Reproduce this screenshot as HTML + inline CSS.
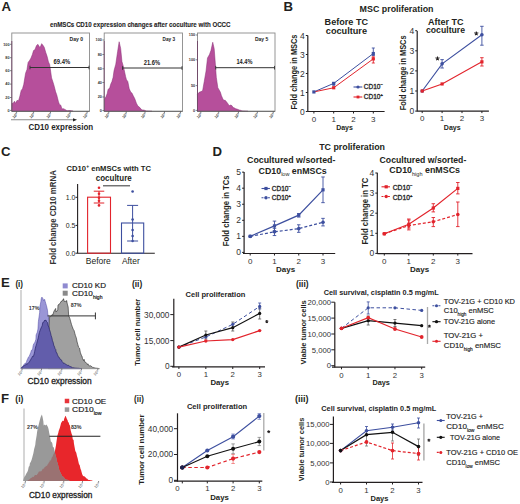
<!DOCTYPE html>
<html><head><meta charset="utf-8"><style>
html,body{margin:0;padding:0;background:#fff;width:520px;height:504px;overflow:hidden}
svg{display:block;font-family:"Liberation Sans",sans-serif}
</style></head><body>
<svg width="520" height="504" viewBox="0 0 520 504">
<rect width="520" height="504" fill="#fff"/>
<text x="1.40" y="10.65" font-size="13.2" font-weight="bold" fill="#231f20">A</text>
<text x="50.00" y="27.34" font-size="7.9" font-weight="bold" fill="#1e1e1e" textLength="180.50" lengthAdjust="spacingAndGlyphs" stroke="#1e1e1e" stroke-width="0.12">enMSCs CD10 expression changes after coculture with OCCC</text>
<path d="M11.97,103.34 L13.23,103.23 L14.56,101.21 L15.46,103.38 L16.93,100.55 L18.65,100.40 L19.92,95.97 L21.17,90.48 L22.49,88.78 L23.76,84.37 L25.59,73.20 L26.98,69.54 L28.10,62.40 L29.73,60.26 L31.01,58.01 L32.36,54.55 L33.55,50.56 L34.90,49.69 L36.44,45.71 L37.82,44.29 L40.03,47.70 L41.66,43.66 L42.95,45.28 L44.23,47.27 L45.69,52.29 L47.09,56.37 L48.48,61.92 L49.69,64.62 L51.58,77.89 L52.95,81.97 L54.21,86.18 L55.62,91.84 L56.69,94.70 L58.33,101.22 L59.29,104.16 L60.76,105.15 L62.00,108.89 L63.41,108.64 L64.41,109.17 L65.58,109.86 L66.79,110.57 L67.86,110.66 L69.02,110.48 L70.43,110.59 L71.49,110.78 L72.90,110.90 L72.90,111.30 L12.10,111.30Z" fill="#b64f9b" stroke="#862a72" stroke-width="0.5"/>
<rect x="11.80" y="33.00" width="77.70" height="78.30" fill="none" stroke="#8a8a8a" stroke-width="0.9"/>
<path d="M11.80,111.30 L89.50,111.30" stroke="#555" stroke-width="0.8" fill="none"/>
<path d="M11.80,41.00 L11.80,111.30" stroke="#6a3a60" stroke-width="0.8" fill="none"/>
<path d="M16.60,111.30 L16.60,113.10" stroke="#555" stroke-width="0.7" fill="none"/>
<text transform="translate(18.00,114.70) rotate(-45)" font-size="3.8" font-weight="bold" fill="#333" text-anchor="end">10<tspan font-size="2.6" dy="-1.3">0</tspan></text>
<path d="M33.60,111.30 L33.60,113.10" stroke="#555" stroke-width="0.7" fill="none"/>
<text transform="translate(35.00,114.70) rotate(-45)" font-size="3.8" font-weight="bold" fill="#333" text-anchor="end">10<tspan font-size="2.6" dy="-1.3">0</tspan></text>
<path d="M50.50,111.30 L50.50,113.10" stroke="#555" stroke-width="0.7" fill="none"/>
<text transform="translate(51.90,114.70) rotate(-45)" font-size="3.8" font-weight="bold" fill="#333" text-anchor="end">10<tspan font-size="2.6" dy="-1.3">0</tspan></text>
<path d="M70.20,111.30 L70.20,113.10" stroke="#555" stroke-width="0.7" fill="none"/>
<text transform="translate(71.60,114.70) rotate(-45)" font-size="3.8" font-weight="bold" fill="#333" text-anchor="end">10<tspan font-size="2.6" dy="-1.3">0</tspan></text>
<path d="M87.10,111.30 L87.10,113.10" stroke="#555" stroke-width="0.7" fill="none"/>
<text transform="translate(88.50,114.70) rotate(-45)" font-size="3.8" font-weight="bold" fill="#333" text-anchor="end">10<tspan font-size="2.6" dy="-1.3">0</tspan></text>
<path d="M10.00,110.40 L11.80,110.40" stroke="#555" stroke-width="0.7" fill="none"/>
<text x="9.50" y="111.70" font-size="3.8" font-weight="bold" fill="#333" text-anchor="end">0</text>
<path d="M10.00,97.50 L11.80,97.50" stroke="#555" stroke-width="0.7" fill="none"/>
<text x="9.50" y="98.80" font-size="3.8" font-weight="bold" fill="#333" text-anchor="end">20</text>
<path d="M10.00,84.10 L11.80,84.10" stroke="#555" stroke-width="0.7" fill="none"/>
<text x="9.50" y="85.40" font-size="3.8" font-weight="bold" fill="#333" text-anchor="end">40</text>
<path d="M10.00,70.70 L11.80,70.70" stroke="#555" stroke-width="0.7" fill="none"/>
<text x="9.50" y="72.00" font-size="3.8" font-weight="bold" fill="#333" text-anchor="end">60</text>
<path d="M10.00,57.70 L11.80,57.70" stroke="#555" stroke-width="0.7" fill="none"/>
<text x="9.50" y="59.00" font-size="3.8" font-weight="bold" fill="#333" text-anchor="end">80</text>
<path d="M10.00,44.30 L11.80,44.30" stroke="#555" stroke-width="0.7" fill="none"/>
<text x="9.50" y="45.60" font-size="3.8" font-weight="bold" fill="#333" text-anchor="end">100</text>
<text x="69.50" y="41.16" font-size="6" font-weight="bold" fill="#222" textLength="13.50" lengthAdjust="spacingAndGlyphs">Day 0</text>
<text x="53.60" y="64.20" font-size="6.4" font-weight="bold" fill="#222" textLength="16.60" lengthAdjust="spacingAndGlyphs">69.4%</text>
<path d="M30.00,67.50 L89.00,67.50" stroke="#333" stroke-width="1" fill="none"/>
<path d="M30.00,65.70 L30.00,69.30" stroke="#333" stroke-width="0.9" fill="none"/>
<path d="M89.00,65.70 L89.00,69.30" stroke="#333" stroke-width="0.9" fill="none"/>
<path d="M104.56,99.27 L105.95,96.72 L107.22,93.45 L108.06,89.61 L109.72,87.83 L110.90,83.74 L111.88,81.79 L113.12,77.29 L114.06,70.59 L115.79,64.13 L117.63,51.41 L119.15,41.74 L120.66,48.41 L121.95,61.59 L123.65,67.39 L125.64,76.69 L126.49,79.73 L127.82,81.57 L129.25,88.81 L130.67,92.04 L131.95,93.06 L133.26,95.78 L134.72,98.61 L136.40,103.13 L137.85,106.01 L139.62,107.32 L141.46,109.59 L142.38,109.91 L143.75,110.06 L145.06,110.44 L146.12,110.96 L146.96,111.02 L148.33,111.07 L149.35,111.11 L150.64,111.23 L152.00,111.30 L152.00,111.30 L104.50,111.30Z" fill="#b64f9b" stroke="#862a72" stroke-width="0.5"/>
<rect x="104.20" y="33.00" width="78.30" height="78.30" fill="none" stroke="#8a8a8a" stroke-width="0.9"/>
<path d="M104.20,111.30 L182.50,111.30" stroke="#555" stroke-width="0.8" fill="none"/>
<path d="M104.20,41.00 L104.20,111.30" stroke="#6a3a60" stroke-width="0.8" fill="none"/>
<path d="M108.75,111.30 L108.75,113.10" stroke="#555" stroke-width="0.7" fill="none"/>
<text transform="translate(110.15,114.70) rotate(-45)" font-size="3.8" font-weight="bold" fill="#333" text-anchor="end">10<tspan font-size="2.6" dy="-1.3">0</tspan></text>
<path d="M126.25,111.30 L126.25,113.10" stroke="#555" stroke-width="0.7" fill="none"/>
<text transform="translate(127.65,114.70) rotate(-45)" font-size="3.8" font-weight="bold" fill="#333" text-anchor="end">10<tspan font-size="2.6" dy="-1.3">0</tspan></text>
<path d="M145.00,111.30 L145.00,113.10" stroke="#555" stroke-width="0.7" fill="none"/>
<text transform="translate(146.40,114.70) rotate(-45)" font-size="3.8" font-weight="bold" fill="#333" text-anchor="end">10<tspan font-size="2.6" dy="-1.3">0</tspan></text>
<path d="M164.50,111.30 L164.50,113.10" stroke="#555" stroke-width="0.7" fill="none"/>
<text transform="translate(165.90,114.70) rotate(-45)" font-size="3.8" font-weight="bold" fill="#333" text-anchor="end">10<tspan font-size="2.6" dy="-1.3">0</tspan></text>
<path d="M180.50,111.30 L180.50,113.10" stroke="#555" stroke-width="0.7" fill="none"/>
<text transform="translate(181.90,114.70) rotate(-45)" font-size="3.8" font-weight="bold" fill="#333" text-anchor="end">10<tspan font-size="2.6" dy="-1.3">0</tspan></text>
<path d="M102.40,110.50 L104.20,110.50" stroke="#555" stroke-width="0.7" fill="none"/>
<text x="101.90" y="111.80" font-size="3.8" font-weight="bold" fill="#333" text-anchor="end">0</text>
<path d="M102.40,97.00 L104.20,97.00" stroke="#555" stroke-width="0.7" fill="none"/>
<text x="101.90" y="98.30" font-size="3.8" font-weight="bold" fill="#333" text-anchor="end">20</text>
<path d="M102.40,82.50 L104.20,82.50" stroke="#555" stroke-width="0.7" fill="none"/>
<text x="101.90" y="83.80" font-size="3.8" font-weight="bold" fill="#333" text-anchor="end">40</text>
<path d="M102.40,68.75 L104.20,68.75" stroke="#555" stroke-width="0.7" fill="none"/>
<text x="101.90" y="70.05" font-size="3.8" font-weight="bold" fill="#333" text-anchor="end">60</text>
<path d="M102.40,54.50 L104.20,54.50" stroke="#555" stroke-width="0.7" fill="none"/>
<text x="101.90" y="55.80" font-size="3.8" font-weight="bold" fill="#333" text-anchor="end">80</text>
<path d="M102.40,40.00 L104.20,40.00" stroke="#555" stroke-width="0.7" fill="none"/>
<text x="101.90" y="41.30" font-size="3.8" font-weight="bold" fill="#333" text-anchor="end">100</text>
<text x="162.50" y="41.16" font-size="6" font-weight="bold" fill="#222" textLength="12.50" lengthAdjust="spacingAndGlyphs">Day 3</text>
<text x="143.75" y="64.70" font-size="6.4" font-weight="bold" fill="#222" textLength="16.25" lengthAdjust="spacingAndGlyphs">21.6%</text>
<path d="M122.50,68.00 L182.00,68.00" stroke="#333" stroke-width="1" fill="none"/>
<path d="M122.50,66.20 L122.50,69.80" stroke="#333" stroke-width="0.9" fill="none"/>
<path d="M182.00,66.20 L182.00,69.80" stroke="#333" stroke-width="0.9" fill="none"/>
<path d="M197.41,94.18 L199.13,92.33 L200.62,91.67 L201.53,91.37 L202.67,90.39 L204.28,81.29 L206.06,70.95 L207.51,57.91 L209.36,54.73 L210.94,50.57 L212.74,42.25 L214.18,48.63 L215.12,60.78 L216.30,77.31 L217.84,87.66 L219.27,90.14 L220.42,92.30 L221.38,95.56 L222.89,99.07 L223.91,100.37 L225.18,100.26 L226.85,102.34 L227.77,103.49 L229.11,105.78 L230.55,105.12 L232.01,105.65 L233.06,107.62 L234.13,107.78 L235.27,108.60 L236.83,109.07 L238.09,109.47 L239.17,109.98 L240.29,110.23 L241.59,110.70 L242.59,110.93 L243.73,111.02 L245.37,111.14 L246.81,111.19 L248.00,111.30 L248.00,111.30 L197.50,111.30Z" fill="#b64f9b" stroke="#862a72" stroke-width="0.5"/>
<rect x="197.50" y="33.00" width="77.50" height="78.30" fill="none" stroke="#8a8a8a" stroke-width="0.9"/>
<path d="M197.50,111.30 L275.00,111.30" stroke="#555" stroke-width="0.8" fill="none"/>
<path d="M197.50,41.00 L197.50,111.30" stroke="#6a3a60" stroke-width="0.8" fill="none"/>
<path d="M200.80,111.30 L200.80,113.10" stroke="#555" stroke-width="0.7" fill="none"/>
<text transform="translate(202.20,114.70) rotate(-45)" font-size="3.8" font-weight="bold" fill="#333" text-anchor="end">10<tspan font-size="2.6" dy="-1.3">0</tspan></text>
<path d="M218.70,111.30 L218.70,113.10" stroke="#555" stroke-width="0.7" fill="none"/>
<text transform="translate(220.10,114.70) rotate(-45)" font-size="3.8" font-weight="bold" fill="#333" text-anchor="end">10<tspan font-size="2.6" dy="-1.3">0</tspan></text>
<path d="M238.50,111.30 L238.50,113.10" stroke="#555" stroke-width="0.7" fill="none"/>
<text transform="translate(239.90,114.70) rotate(-45)" font-size="3.8" font-weight="bold" fill="#333" text-anchor="end">10<tspan font-size="2.6" dy="-1.3">0</tspan></text>
<path d="M257.40,111.30 L257.40,113.10" stroke="#555" stroke-width="0.7" fill="none"/>
<text transform="translate(258.80,114.70) rotate(-45)" font-size="3.8" font-weight="bold" fill="#333" text-anchor="end">10<tspan font-size="2.6" dy="-1.3">0</tspan></text>
<path d="M273.25,111.30 L273.25,113.10" stroke="#555" stroke-width="0.7" fill="none"/>
<text transform="translate(274.65,114.70) rotate(-45)" font-size="3.8" font-weight="bold" fill="#333" text-anchor="end">10<tspan font-size="2.6" dy="-1.3">0</tspan></text>
<path d="M195.70,110.40 L197.50,110.40" stroke="#555" stroke-width="0.7" fill="none"/>
<text x="195.20" y="111.70" font-size="3.8" font-weight="bold" fill="#333" text-anchor="end">0</text>
<path d="M195.70,85.60 L197.50,85.60" stroke="#555" stroke-width="0.7" fill="none"/>
<text x="195.20" y="86.90" font-size="3.8" font-weight="bold" fill="#333" text-anchor="end">50</text>
<path d="M195.70,59.80 L197.50,59.80" stroke="#555" stroke-width="0.7" fill="none"/>
<text x="195.20" y="61.10" font-size="3.8" font-weight="bold" fill="#333" text-anchor="end">100</text>
<path d="M195.70,35.00 L197.50,35.00" stroke="#555" stroke-width="0.7" fill="none"/>
<text x="195.20" y="36.30" font-size="3.8" font-weight="bold" fill="#333" text-anchor="end">150</text>
<text x="255.00" y="41.16" font-size="6" font-weight="bold" fill="#222" textLength="13.30" lengthAdjust="spacingAndGlyphs">Day 5</text>
<text x="236.50" y="64.40" font-size="6.4" font-weight="bold" fill="#222" textLength="15.90" lengthAdjust="spacingAndGlyphs">14.4%</text>
<path d="M215.70,67.70 L274.50,67.70" stroke="#333" stroke-width="1" fill="none"/>
<path d="M215.70,65.90 L215.70,69.50" stroke="#333" stroke-width="0.9" fill="none"/>
<path d="M274.50,65.90 L274.50,69.50" stroke="#333" stroke-width="0.9" fill="none"/>
<path d="M11.00,119.80 L74.00,119.80" stroke="#8a8a8a" stroke-width="1.1" fill="none"/>
<path d="M77.00,119.80 L73.00,118.20 L73.00,121.40Z" fill="#222" stroke="none" stroke-width="1"/>
<text x="28.60" y="130.09" font-size="8.3" font-weight="bold" fill="#262626" textLength="64.60" lengthAdjust="spacingAndGlyphs">CD10 expression</text>
<text x="283.50" y="10.65" font-size="13.2" font-weight="bold" fill="#231f20">B</text>
<text x="359.60" y="11.67" font-size="8.8" font-weight="bold" fill="#231f20" textLength="73.90" lengthAdjust="spacingAndGlyphs">MSC proliferation</text>
<text x="324.60" y="25.10" font-size="8.6" font-weight="bold" fill="#231f20" textLength="43.40" lengthAdjust="spacingAndGlyphs">Before TC</text>
<text x="325.80" y="33.90" font-size="8.6" font-weight="bold" fill="#231f20" textLength="41.20" lengthAdjust="spacingAndGlyphs">coculture</text>
<path d="M307.80,35.50 L307.80,111.80" stroke="#231f20" stroke-width="1.2" fill="none"/>
<path d="M307.80,111.50 L384.60,111.50" stroke="#231f20" stroke-width="1.2" fill="none"/>
<path d="M305.80,111.50 L307.80,111.50" stroke="#231f20" stroke-width="1" fill="none"/>
<text x="304.80" y="114.56" font-size="8.5" fill="#333" text-anchor="end">0</text>
<path d="M305.80,92.50 L307.80,92.50" stroke="#231f20" stroke-width="1" fill="none"/>
<text x="304.80" y="95.56" font-size="8.5" fill="#333" text-anchor="end">1</text>
<path d="M305.80,73.50 L307.80,73.50" stroke="#231f20" stroke-width="1" fill="none"/>
<text x="304.80" y="76.56" font-size="8.5" fill="#333" text-anchor="end">2</text>
<path d="M305.80,54.50 L307.80,54.50" stroke="#231f20" stroke-width="1" fill="none"/>
<text x="304.80" y="57.56" font-size="8.5" fill="#333" text-anchor="end">3</text>
<path d="M305.80,35.50 L307.80,35.50" stroke="#231f20" stroke-width="1" fill="none"/>
<text x="304.80" y="38.56" font-size="8.5" fill="#333" text-anchor="end">4</text>
<path d="M313.90,111.50 L313.90,113.50" stroke="#231f20" stroke-width="1" fill="none"/>
<text x="313.90" y="121.68" font-size="8" fill="#333" text-anchor="middle">0</text>
<path d="M333.70,111.50 L333.70,113.50" stroke="#231f20" stroke-width="1" fill="none"/>
<text x="333.70" y="121.68" font-size="8" fill="#333" text-anchor="middle">1</text>
<path d="M353.50,111.50 L353.50,113.50" stroke="#231f20" stroke-width="1" fill="none"/>
<text x="353.50" y="121.68" font-size="8" fill="#333" text-anchor="middle">2</text>
<path d="M373.30,111.50 L373.30,113.50" stroke="#231f20" stroke-width="1" fill="none"/>
<text x="373.30" y="121.68" font-size="8" fill="#333" text-anchor="middle">3</text>
<text x="344.50" y="130.02" font-size="7" font-weight="bold" fill="#231f20" text-anchor="middle">Days</text>
<text transform="translate(297.46,109.50) rotate(-90)" font-size="8.5" font-weight="bold" fill="#231f20" textLength="75.00" lengthAdjust="spacingAndGlyphs">Fold change in MSCs</text>
<path d="M313.90,91.93 L333.70,83.38 L373.30,53.55" stroke="#3d4f9f" stroke-width="1" fill="none"/>
<path d="M313.90,91.93 L333.70,87.75 L373.30,58.87" stroke="#e2242c" stroke-width="1" fill="none"/>
<path d="M373.30,48.00 L373.30,55.50" stroke="#3d4f9f" stroke-width="0.9" fill="none"/>
<path d="M371.80,48.00 L374.80,48.00" stroke="#3d4f9f" stroke-width="0.9" fill="none"/>
<path d="M371.80,55.50 L374.80,55.50" stroke="#3d4f9f" stroke-width="0.9" fill="none"/>
<path d="M373.30,56.80 L373.30,63.00" stroke="#e2242c" stroke-width="0.9" fill="none"/>
<path d="M371.80,56.80 L374.80,56.80" stroke="#e2242c" stroke-width="0.9" fill="none"/>
<path d="M371.80,63.00 L374.80,63.00" stroke="#e2242c" stroke-width="0.9" fill="none"/>
<path d="M333.70,82.62 L333.70,85.28" stroke="#3d4f9f" stroke-width="0.9" fill="none"/>
<path d="M332.20,82.62 L335.20,82.62" stroke="#3d4f9f" stroke-width="0.9" fill="none"/>
<path d="M332.20,85.28 L335.20,85.28" stroke="#3d4f9f" stroke-width="0.9" fill="none"/>
<rect x="312.30" y="90.33" width="3.2" height="3.2" fill="#3d4f9f"/>
<rect x="332.10" y="81.78" width="3.2" height="3.2" fill="#3d4f9f"/>
<rect x="371.70" y="51.95" width="3.2" height="3.2" fill="#3d4f9f"/>
<rect x="332.10" y="86.15" width="3.2" height="3.2" fill="#e2242c"/>
<rect x="371.70" y="57.27" width="3.2" height="3.2" fill="#e2242c"/>
<path d="M353.50,87.00 L362.30,87.00" stroke="#3d4f9f" stroke-width="1.1" fill="none"/>
<circle cx="358.00" cy="87.00" r="1.6" fill="#3d4f9f"/>
<path d="M353.50,97.00 L362.30,97.00" stroke="#e2242c" stroke-width="1.1" fill="none"/>
<rect x="356.60" y="95.60" width="2.8" height="2.8" fill="#e2242c"/>
<text x="363.80" y="89.32" font-size="7" stroke="#2a2a2a" stroke-width="0.35" fill="#2a2a2a" textLength="19.00" lengthAdjust="spacingAndGlyphs">CD10<tspan font-size="4.20" dy="-2.94" font-weight="bold">−</tspan></text>
<text x="363.80" y="99.32" font-size="7" stroke="#2a2a2a" stroke-width="0.35" fill="#2a2a2a" textLength="19.00" lengthAdjust="spacingAndGlyphs">CD10<tspan font-size="4.20" dy="-2.94" font-weight="bold">+</tspan></text>
<text x="427.90" y="25.10" font-size="8.6" font-weight="bold" fill="#231f20" textLength="35.60" lengthAdjust="spacingAndGlyphs">After TC</text>
<text x="426.00" y="32.90" font-size="8.6" font-weight="bold" fill="#231f20" textLength="39.00" lengthAdjust="spacingAndGlyphs">coculture</text>
<path d="M417.20,31.00 L417.20,111.40" stroke="#231f20" stroke-width="1.2" fill="none"/>
<path d="M417.20,111.10 L488.90,111.10" stroke="#231f20" stroke-width="1.2" fill="none"/>
<path d="M415.20,111.10 L417.20,111.10" stroke="#231f20" stroke-width="1" fill="none"/>
<text x="414.20" y="114.16" font-size="8.5" fill="#333" text-anchor="end">0</text>
<path d="M415.20,91.00 L417.20,91.00" stroke="#231f20" stroke-width="1" fill="none"/>
<text x="414.20" y="94.06" font-size="8.5" fill="#333" text-anchor="end">1</text>
<path d="M415.20,70.90 L417.20,70.90" stroke="#231f20" stroke-width="1" fill="none"/>
<text x="414.20" y="73.96" font-size="8.5" fill="#333" text-anchor="end">2</text>
<path d="M415.20,50.80 L417.20,50.80" stroke="#231f20" stroke-width="1" fill="none"/>
<text x="414.20" y="53.86" font-size="8.5" fill="#333" text-anchor="end">3</text>
<path d="M415.20,30.70 L417.20,30.70" stroke="#231f20" stroke-width="1" fill="none"/>
<text x="414.20" y="33.76" font-size="8.5" fill="#333" text-anchor="end">4</text>
<path d="M422.20,111.10 L422.20,113.10" stroke="#231f20" stroke-width="1" fill="none"/>
<text x="422.20" y="121.48" font-size="8" fill="#333" text-anchor="middle">0</text>
<path d="M442.10,111.10 L442.10,113.10" stroke="#231f20" stroke-width="1" fill="none"/>
<text x="442.10" y="121.48" font-size="8" fill="#333" text-anchor="middle">1</text>
<path d="M462.00,111.10 L462.00,113.10" stroke="#231f20" stroke-width="1" fill="none"/>
<text x="462.00" y="121.48" font-size="8" fill="#333" text-anchor="middle">2</text>
<path d="M481.90,111.10 L481.90,113.10" stroke="#231f20" stroke-width="1" fill="none"/>
<text x="481.90" y="121.48" font-size="8" fill="#333" text-anchor="middle">3</text>
<text x="452.20" y="130.32" font-size="7" font-weight="bold" fill="#231f20" text-anchor="middle">Days</text>
<text transform="translate(405.86,110.20) rotate(-90)" font-size="8.5" font-weight="bold" fill="#231f20" textLength="74.70" lengthAdjust="spacingAndGlyphs">Fold change in MSCs</text>
<path d="M422.20,91.00 L442.10,63.86 L481.90,34.72" stroke="#3d4f9f" stroke-width="1.1" fill="none"/>
<path d="M422.20,91.00 L442.10,83.96 L481.90,61.85" stroke="#e2242c" stroke-width="1.1" fill="none"/>
<path d="M481.90,26.30 L481.90,45.20" stroke="#3d4f9f" stroke-width="0.9" fill="none"/>
<path d="M480.15,26.30 L483.65,26.30" stroke="#3d4f9f" stroke-width="0.9" fill="none"/>
<path d="M480.15,45.20 L483.65,45.20" stroke="#3d4f9f" stroke-width="0.9" fill="none"/>
<path d="M442.10,59.60 L442.10,68.00" stroke="#3d4f9f" stroke-width="0.9" fill="none"/>
<path d="M440.35,59.60 L443.85,59.60" stroke="#3d4f9f" stroke-width="0.9" fill="none"/>
<path d="M440.35,68.00 L443.85,68.00" stroke="#3d4f9f" stroke-width="0.9" fill="none"/>
<path d="M481.90,57.70 L481.90,66.00" stroke="#e2242c" stroke-width="0.9" fill="none"/>
<path d="M480.15,57.70 L483.65,57.70" stroke="#e2242c" stroke-width="0.9" fill="none"/>
<path d="M480.15,66.00 L483.65,66.00" stroke="#e2242c" stroke-width="0.9" fill="none"/>
<circle cx="422.20" cy="91.00" r="1.8" fill="#3d4f9f"/>
<circle cx="442.10" cy="63.86" r="1.8" fill="#3d4f9f"/>
<circle cx="481.90" cy="34.72" r="1.8" fill="#3d4f9f"/>
<rect x="420.60" y="89.40" width="3.2" height="3.2" fill="#e2242c"/>
<rect x="440.50" y="82.36" width="3.2" height="3.2" fill="#e2242c"/>
<rect x="480.30" y="60.25" width="3.2" height="3.2" fill="#e2242c"/>
<path d="M437.50,58.50 L437.50,56.40 M437.50,58.50 L439.50,57.85 M437.50,58.50 L438.73,60.20 M437.50,58.50 L436.27,60.20 M437.50,58.50 L435.50,57.85 " stroke="#231f20" stroke-width="1.05" stroke-linecap="butt" fill="none"/>
<path d="M476.30,33.50 L476.30,31.40 M476.30,33.50 L478.30,32.85 M476.30,33.50 L477.53,35.20 M476.30,33.50 L475.07,35.20 M476.30,33.50 L474.30,32.85 " stroke="#231f20" stroke-width="1.05" stroke-linecap="butt" fill="none"/>
<text x="1.00" y="155.55" font-size="13.2" font-weight="bold" fill="#231f20">C</text>
<text x="66.60" y="171.44" font-size="7.9" font-weight="bold" fill="#231f20" textLength="84.40" lengthAdjust="spacingAndGlyphs">CD10<tspan font-size="5.14" dy="-3.16">+</tspan><tspan dy="3.16"> enMSCs with TC</tspan></text>
<text x="95.80" y="181.15" font-size="8.2" font-weight="bold" fill="#231f20" textLength="35.90" lengthAdjust="spacingAndGlyphs">coculture</text>
<path d="M77.60,184.00 L77.60,253.50" stroke="#231f20" stroke-width="1.1" fill="none"/>
<path d="M77.60,253.30 L154.80,253.30" stroke="#231f20" stroke-width="1.1" fill="none"/>
<path d="M75.50,197.30 L77.60,197.30" stroke="#231f20" stroke-width="1" fill="none"/>
<text x="65.80" y="200.11" font-size="7.8" fill="#231f20" textLength="9.60" lengthAdjust="spacingAndGlyphs">1.0</text>
<path d="M75.50,225.40 L77.60,225.40" stroke="#231f20" stroke-width="1" fill="none"/>
<text x="65.80" y="228.21" font-size="7.8" fill="#231f20" textLength="9.60" lengthAdjust="spacingAndGlyphs">0.5</text>
<path d="M75.50,253.20 L77.60,253.20" stroke="#231f20" stroke-width="1" fill="none"/>
<text x="65.80" y="256.01" font-size="7.8" fill="#231f20" textLength="9.60" lengthAdjust="spacingAndGlyphs">0.0</text>
<text transform="translate(55.67,264.60) rotate(-90)" font-size="8.8" font-weight="bold" fill="#333" textLength="94.40" lengthAdjust="spacingAndGlyphs">Fold change CD10 mRNA</text>
<rect x="87.6" y="197.2" width="22.9" height="56" fill="none" stroke="#e2242c" stroke-width="1.1"/>
<rect x="121.5" y="223" width="22.2" height="30.2" fill="none" stroke="#3d4f9f" stroke-width="1.1"/>
<path d="M99.00,191.20 L99.00,203.00" stroke="#e2242c" stroke-width="1" fill="none"/>
<path d="M93.75,191.20 L104.25,191.20" stroke="#e2242c" stroke-width="1" fill="none"/>
<path d="M93.75,203.00 L104.25,203.00" stroke="#e2242c" stroke-width="1" fill="none"/>
<path d="M132.60,205.40 L132.60,241.00" stroke="#3d4f9f" stroke-width="1" fill="none"/>
<path d="M127.10,205.40 L138.10,205.40" stroke="#3d4f9f" stroke-width="1" fill="none"/>
<path d="M127.10,241.00 L138.10,241.00" stroke="#3d4f9f" stroke-width="1" fill="none"/>
<circle cx="99.00" cy="187.70" r="1.3" fill="#e2242c"/>
<circle cx="99.00" cy="193.80" r="1.3" fill="#e2242c"/>
<circle cx="99.00" cy="197.70" r="1.3" fill="#e2242c"/>
<circle cx="99.00" cy="200.80" r="1.3" fill="#e2242c"/>
<circle cx="99.00" cy="205.40" r="1.3" fill="#e2242c"/>
<circle cx="132.60" cy="191.50" r="1.3" fill="#3d4f9f"/>
<circle cx="132.60" cy="219.50" r="1.3" fill="#3d4f9f"/>
<circle cx="132.60" cy="230.00" r="1.3" fill="#3d4f9f"/>
<circle cx="132.60" cy="236.00" r="1.3" fill="#3d4f9f"/>
<circle cx="132.60" cy="241.00" r="1.3" fill="#3d4f9f"/>
<path d="M103.00,185.80 L130.00,185.80" stroke="#444" stroke-width="1.1" fill="none"/>
<text x="85.80" y="264.04" font-size="9" fill="#231f20" textLength="25.00" lengthAdjust="spacingAndGlyphs">Before</text>
<text x="121.90" y="264.24" font-size="9" fill="#231f20" textLength="17.80" lengthAdjust="spacingAndGlyphs">After</text>
<text x="212.60" y="155.65" font-size="13.2" font-weight="bold" fill="#231f20">D</text>
<text x="319.20" y="150.47" font-size="8.8" font-weight="bold" fill="#231f20" textLength="65.80" lengthAdjust="spacingAndGlyphs">TC proliferation</text>
<text x="247.00" y="163.10" font-size="8.9" font-weight="bold" fill="#231f20" textLength="88.40" lengthAdjust="spacingAndGlyphs">Cocultured w/sorted-</text>
<text x="258.50" y="173.50" font-size="8.9" font-weight="bold" fill="#231f20" textLength="68.30" lengthAdjust="spacingAndGlyphs">CD10<tspan font-size="5.52" dy="2.85" font-weight="normal">low</tspan><tspan dy="-2.85"> enMSCs</tspan></text>
<path d="M244.10,172.00 L244.10,254.00" stroke="#231f20" stroke-width="1.2" fill="none"/>
<path d="M243.00,253.50 L335.20,253.50" stroke="#231f20" stroke-width="1.2" fill="none"/>
<path d="M242.10,252.40 L244.10,252.40" stroke="#231f20" stroke-width="1" fill="none"/>
<text x="241.10" y="255.46" font-size="8.5" fill="#333" text-anchor="end">0</text>
<path d="M242.10,236.35 L244.10,236.35" stroke="#231f20" stroke-width="1" fill="none"/>
<text x="241.10" y="239.41" font-size="8.5" fill="#333" text-anchor="end">1</text>
<path d="M242.10,220.30 L244.10,220.30" stroke="#231f20" stroke-width="1" fill="none"/>
<text x="241.10" y="223.36" font-size="8.5" fill="#333" text-anchor="end">2</text>
<path d="M242.10,204.25 L244.10,204.25" stroke="#231f20" stroke-width="1" fill="none"/>
<text x="241.10" y="207.31" font-size="8.5" fill="#333" text-anchor="end">3</text>
<path d="M242.10,188.20 L244.10,188.20" stroke="#231f20" stroke-width="1" fill="none"/>
<text x="241.10" y="191.26" font-size="8.5" fill="#333" text-anchor="end">4</text>
<path d="M242.10,172.15 L244.10,172.15" stroke="#231f20" stroke-width="1" fill="none"/>
<text x="241.10" y="175.21" font-size="8.5" fill="#333" text-anchor="end">5</text>
<path d="M250.20,253.50 L250.20,255.50" stroke="#231f20" stroke-width="1" fill="none"/>
<text x="250.20" y="263.78" font-size="8" fill="#333" text-anchor="middle">0</text>
<path d="M274.47,253.50 L274.47,255.50" stroke="#231f20" stroke-width="1" fill="none"/>
<text x="274.47" y="263.78" font-size="8" fill="#333" text-anchor="middle">1</text>
<path d="M298.74,253.50 L298.74,255.50" stroke="#231f20" stroke-width="1" fill="none"/>
<text x="298.74" y="263.78" font-size="8" fill="#333" text-anchor="middle">2</text>
<path d="M323.01,253.50 L323.01,255.50" stroke="#231f20" stroke-width="1" fill="none"/>
<text x="323.01" y="263.78" font-size="8" fill="#333" text-anchor="middle">3</text>
<text x="285.60" y="271.78" font-size="8" font-weight="bold" fill="#231f20" text-anchor="middle">Days</text>
<text transform="translate(229.19,246.20) rotate(-90)" font-size="8.3" font-weight="bold" fill="#231f20" textLength="70.80" lengthAdjust="spacingAndGlyphs">Fold change in TCs</text>
<path d="M250.20,236.35 L274.47,225.92 L298.74,215.16 L323.01,189.81" stroke="#3d4f9f" stroke-width="1.2" fill="none"/>
<path d="M250.20,236.35 L274.47,231.86 L298.74,228.65 L323.01,222.23" stroke="#3d4f9f" stroke-width="1.2" fill="none" stroke-dasharray="3,2"/>
<path d="M274.47,221.10 L274.47,230.73" stroke="#3d4f9f" stroke-width="0.9" fill="none"/>
<path d="M272.72,221.10 L276.22,221.10" stroke="#3d4f9f" stroke-width="0.9" fill="none"/>
<path d="M272.72,230.73 L276.22,230.73" stroke="#3d4f9f" stroke-width="0.9" fill="none"/>
<path d="M298.74,213.56 L298.74,217.09" stroke="#3d4f9f" stroke-width="0.9" fill="none"/>
<path d="M296.99,213.56 L300.49,213.56" stroke="#3d4f9f" stroke-width="0.9" fill="none"/>
<path d="M296.99,217.09 L300.49,217.09" stroke="#3d4f9f" stroke-width="0.9" fill="none"/>
<path d="M323.01,176.97 L323.01,202.65" stroke="#3d4f9f" stroke-width="0.9" fill="none"/>
<path d="M321.26,176.97 L324.76,176.97" stroke="#3d4f9f" stroke-width="0.9" fill="none"/>
<path d="M321.26,202.65 L324.76,202.65" stroke="#3d4f9f" stroke-width="0.9" fill="none"/>
<path d="M274.47,228.32 L274.47,235.55" stroke="#3d4f9f" stroke-width="0.9" fill="none"/>
<path d="M272.72,228.32 L276.22,228.32" stroke="#3d4f9f" stroke-width="0.9" fill="none"/>
<path d="M272.72,235.55 L276.22,235.55" stroke="#3d4f9f" stroke-width="0.9" fill="none"/>
<path d="M298.74,224.79 L298.74,232.34" stroke="#3d4f9f" stroke-width="0.9" fill="none"/>
<path d="M296.99,224.79 L300.49,224.79" stroke="#3d4f9f" stroke-width="0.9" fill="none"/>
<path d="M296.99,232.34 L300.49,232.34" stroke="#3d4f9f" stroke-width="0.9" fill="none"/>
<path d="M323.01,218.37 L323.01,225.92" stroke="#3d4f9f" stroke-width="0.9" fill="none"/>
<path d="M321.26,218.37 L324.76,218.37" stroke="#3d4f9f" stroke-width="0.9" fill="none"/>
<path d="M321.26,225.92 L324.76,225.92" stroke="#3d4f9f" stroke-width="0.9" fill="none"/>
<rect x="248.60" y="234.75" width="3.2" height="3.2" fill="#3d4f9f"/>
<rect x="272.87" y="224.32" width="3.2" height="3.2" fill="#3d4f9f"/>
<rect x="297.14" y="213.56" width="3.2" height="3.2" fill="#3d4f9f"/>
<rect x="321.41" y="188.21" width="3.2" height="3.2" fill="#3d4f9f"/>
<circle cx="250.20" cy="236.35" r="1.8" fill="#3d4f9f"/>
<circle cx="274.47" cy="231.86" r="1.8" fill="#3d4f9f"/>
<circle cx="298.74" cy="228.65" r="1.8" fill="#3d4f9f"/>
<circle cx="323.01" cy="222.23" r="1.8" fill="#3d4f9f"/>
<path d="M261.50,188.50 L269.90,188.50" stroke="#3d4f9f" stroke-width="1.1" fill="none"/>
<rect x="264.40" y="186.90" width="3.2" height="3.2" fill="#3d4f9f"/>
<path d="M261.50,197.70 L269.90,197.70" stroke="#3d4f9f" stroke-width="1.1" fill="none" stroke-dasharray="2,1.2"/>
<circle cx="266.00" cy="197.70" r="1.7" fill="#3d4f9f"/>
<text x="271.80" y="191.02" font-size="7" stroke="#2a2a2a" stroke-width="0.35" fill="#2a2a2a" textLength="19.00" lengthAdjust="spacingAndGlyphs">CD10<tspan font-size="4.20" dy="-2.94" font-weight="bold">−</tspan></text>
<text x="271.80" y="200.22" font-size="7" stroke="#2a2a2a" stroke-width="0.35" fill="#2a2a2a" textLength="19.00" lengthAdjust="spacingAndGlyphs">CD10<tspan font-size="4.20" dy="-2.94" font-weight="bold">+</tspan></text>
<text x="379.60" y="162.80" font-size="8.9" font-weight="bold" fill="#231f20" textLength="86.70" lengthAdjust="spacingAndGlyphs">Cocultured w/sorted-</text>
<text x="389.30" y="173.00" font-size="8.9" font-weight="bold" fill="#231f20" textLength="70.70" lengthAdjust="spacingAndGlyphs">CD10<tspan font-size="5.52" dy="2.85" font-weight="normal">high</tspan><tspan dy="-2.85"> enMSCs</tspan></text>
<path d="M377.30,172.80 L377.30,254.00" stroke="#231f20" stroke-width="1.2" fill="none"/>
<path d="M377.30,253.60 L472.50,253.60" stroke="#231f20" stroke-width="1.2" fill="none"/>
<path d="M375.30,253.40 L377.30,253.40" stroke="#231f20" stroke-width="1" fill="none"/>
<text x="374.30" y="256.46" font-size="8.5" fill="#333" text-anchor="end">0</text>
<path d="M375.30,233.30 L377.30,233.30" stroke="#231f20" stroke-width="1" fill="none"/>
<text x="374.30" y="236.36" font-size="8.5" fill="#333" text-anchor="end">1</text>
<path d="M375.30,213.20 L377.30,213.20" stroke="#231f20" stroke-width="1" fill="none"/>
<text x="374.30" y="216.26" font-size="8.5" fill="#333" text-anchor="end">2</text>
<path d="M375.30,193.10 L377.30,193.10" stroke="#231f20" stroke-width="1" fill="none"/>
<text x="374.30" y="196.16" font-size="8.5" fill="#333" text-anchor="end">3</text>
<path d="M375.30,173.00 L377.30,173.00" stroke="#231f20" stroke-width="1" fill="none"/>
<text x="374.30" y="176.06" font-size="8.5" fill="#333" text-anchor="end">4</text>
<path d="M384.30,253.60 L384.30,255.60" stroke="#231f20" stroke-width="1" fill="none"/>
<text x="384.30" y="263.78" font-size="8" fill="#333" text-anchor="middle">0</text>
<path d="M408.80,253.60 L408.80,255.60" stroke="#231f20" stroke-width="1" fill="none"/>
<text x="408.80" y="263.78" font-size="8" fill="#333" text-anchor="middle">1</text>
<path d="M433.30,253.60 L433.30,255.60" stroke="#231f20" stroke-width="1" fill="none"/>
<text x="433.30" y="263.78" font-size="8" fill="#333" text-anchor="middle">2</text>
<path d="M457.80,253.60 L457.80,255.60" stroke="#231f20" stroke-width="1" fill="none"/>
<text x="457.80" y="263.78" font-size="8" fill="#333" text-anchor="middle">3</text>
<text x="419.60" y="271.98" font-size="8" font-weight="bold" fill="#231f20" text-anchor="middle">Days</text>
<text transform="translate(367.69,244.60) rotate(-90)" font-size="8.3" font-weight="bold" fill="#231f20" textLength="67.00" lengthAdjust="spacingAndGlyphs">Fold change in TC</text>
<path d="M384.30,233.80 L408.80,224.30 L433.30,208.00 L457.80,188.40" stroke="#e2242c" stroke-width="1.2" fill="none"/>
<path d="M384.30,233.80 L408.80,225.60 L433.30,221.70 L457.80,214.50" stroke="#e2242c" stroke-width="1.2" fill="none" stroke-dasharray="3,2"/>
<path d="M408.80,219.00 L408.80,228.00" stroke="#e2242c" stroke-width="0.9" fill="none"/>
<path d="M407.05,219.00 L410.55,219.00" stroke="#e2242c" stroke-width="0.9" fill="none"/>
<path d="M407.05,228.00 L410.55,228.00" stroke="#e2242c" stroke-width="0.9" fill="none"/>
<path d="M433.30,203.70 L433.30,211.90" stroke="#e2242c" stroke-width="0.9" fill="none"/>
<path d="M431.55,203.70 L435.05,203.70" stroke="#e2242c" stroke-width="0.9" fill="none"/>
<path d="M431.55,211.90 L435.05,211.90" stroke="#e2242c" stroke-width="0.9" fill="none"/>
<path d="M457.80,182.50 L457.80,193.90" stroke="#e2242c" stroke-width="0.9" fill="none"/>
<path d="M456.05,182.50 L459.55,182.50" stroke="#e2242c" stroke-width="0.9" fill="none"/>
<path d="M456.05,193.90 L459.55,193.90" stroke="#e2242c" stroke-width="0.9" fill="none"/>
<path d="M408.80,220.00 L408.80,229.90" stroke="#e2242c" stroke-width="0.9" fill="none"/>
<path d="M407.05,220.00 L410.55,220.00" stroke="#e2242c" stroke-width="0.9" fill="none"/>
<path d="M407.05,229.90 L410.55,229.90" stroke="#e2242c" stroke-width="0.9" fill="none"/>
<path d="M433.30,217.50 L433.30,226.60" stroke="#e2242c" stroke-width="0.9" fill="none"/>
<path d="M431.55,217.50 L435.05,217.50" stroke="#e2242c" stroke-width="0.9" fill="none"/>
<path d="M431.55,226.60 L435.05,226.60" stroke="#e2242c" stroke-width="0.9" fill="none"/>
<path d="M457.80,202.00 L457.80,226.60" stroke="#e2242c" stroke-width="0.9" fill="none"/>
<path d="M456.05,202.00 L459.55,202.00" stroke="#e2242c" stroke-width="0.9" fill="none"/>
<path d="M456.05,226.60 L459.55,226.60" stroke="#e2242c" stroke-width="0.9" fill="none"/>
<rect x="382.70" y="232.20" width="3.2" height="3.2" fill="#e2242c"/>
<rect x="407.20" y="222.70" width="3.2" height="3.2" fill="#e2242c"/>
<rect x="431.70" y="206.40" width="3.2" height="3.2" fill="#e2242c"/>
<rect x="456.20" y="186.80" width="3.2" height="3.2" fill="#e2242c"/>
<circle cx="384.30" cy="233.80" r="1.8" fill="#e2242c"/>
<circle cx="408.80" cy="225.60" r="1.8" fill="#e2242c"/>
<circle cx="433.30" cy="221.70" r="1.8" fill="#e2242c"/>
<circle cx="457.80" cy="214.50" r="1.8" fill="#e2242c"/>
<path d="M381.50,186.80 L390.00,186.80" stroke="#e2242c" stroke-width="1.1" fill="none"/>
<rect x="384.60" y="185.20" width="3.2" height="3.2" fill="#e2242c"/>
<path d="M381.50,196.50 L390.00,196.50" stroke="#e2242c" stroke-width="1.1" fill="none" stroke-dasharray="2,1.2"/>
<circle cx="386.20" cy="196.50" r="1.7" fill="#e2242c"/>
<text x="392.70" y="189.52" font-size="7" stroke="#2a2a2a" stroke-width="0.35" fill="#2a2a2a" textLength="19.60" lengthAdjust="spacingAndGlyphs">CD10<tspan font-size="4.20" dy="-2.94" font-weight="bold">−</tspan></text>
<text x="392.70" y="199.52" font-size="7" stroke="#2a2a2a" stroke-width="0.35" fill="#2a2a2a" textLength="19.60" lengthAdjust="spacingAndGlyphs">CD10<tspan font-size="4.20" dy="-2.94" font-weight="bold">+</tspan></text>
<text x="1.00" y="287.45" font-size="13.2" font-weight="bold" fill="#231f20">E</text>
<text x="15.40" y="286.64" font-size="9" font-weight="bold" fill="#231f20" textLength="7.60" lengthAdjust="spacingAndGlyphs">(i)</text>
<rect x="62.70" y="283.40" width="5" height="5" fill="#8f8ad0"/>
<rect x="62.70" y="290.70" width="5" height="5" fill="#8a8a8a"/>
<text x="72.00" y="287.98" font-size="8" fill="#1a1a1a" textLength="34.00" lengthAdjust="spacingAndGlyphs" stroke="#1a1a1a" stroke-width="0.18">CD10 KD</text>
<text x="72.00" y="295.68" font-size="8" stroke="#1a1a1a" stroke-width="0.18" fill="#1a1a1a" textLength="30.50" lengthAdjust="spacingAndGlyphs">CD10<tspan font-size="4.96" dy="2.88">high</tspan></text>
<path d="M21.00,290.00 L21.00,368.60" stroke="#bbbbbb" stroke-width="1.2" fill="none"/>
<path d="M20.68,368.60 L21.54,367.87 L21.96,367.19 L22.43,366.45 L23.28,365.93 L23.65,364.82 L24.28,364.61 L25.21,362.98 L25.98,363.51 L26.45,362.31 L26.83,360.53 L27.64,358.99 L28.10,357.83 L28.65,356.74 L29.48,355.97 L30.15,354.04 L30.77,352.55 L31.38,350.26 L32.25,350.21 L32.77,348.15 L33.11,345.71 L33.69,343.91 L34.53,343.08 L35.17,341.57 L35.90,339.37 L36.10,334.97 L37.23,332.36 L37.94,329.09 L38.39,321.51 L39.64,312.74 L39.89,306.62 L40.93,301.22 L41.21,298.84 L41.90,297.12 L43.00,298.71 L43.63,300.59 L44.65,299.36 L45.22,301.59 L45.81,303.54 L46.46,305.64 L47.49,310.26 L47.80,313.97 L48.46,316.59 L49.48,320.68 L49.78,324.78 L50.51,326.72 L51.46,330.26 L51.90,333.15 L52.40,336.37 L53.07,338.60 L53.74,340.51 L54.63,342.77 L55.04,345.73 L55.44,346.11 L56.40,349.24 L56.67,349.78 L57.52,353.08 L57.85,354.90 L58.82,355.21 L59.21,355.21 L59.64,357.93 L60.37,358.41 L61.00,359.65 L61.80,359.59 L62.21,361.42 L62.78,361.55 L63.63,362.89 L64.26,362.34 L65.01,362.59 L65.16,363.03 L65.97,363.12 L66.44,363.85 L67.24,363.94 L67.73,365.05 L68.64,365.14 L69.10,365.40 L69.42,365.33 L69.96,366.27 L70.90,366.60 L71.16,366.73 L71.99,367.09 L72.53,367.29 L73.04,367.22 L73.99,367.43 L74.62,367.46 L75.27,367.61 L75.68,367.65 L76.58,367.78 L76.96,367.86 L77.81,367.91 L78.31,367.98 L78.92,368.11 L79.29,368.21 L80.37,368.33 L80.86,368.39 L81.49,368.50 L82.00,368.60 L82.00,368.60 L20.70,368.60Z" fill="#9a96d6" stroke="#4a45a0" stroke-width="0.5"/>
<path d="M48.49,368.60 L48.88,329.14 L49.36,316.50 L50.15,317.00 L51.02,315.96 L51.61,315.57 L52.06,314.50 L52.73,315.07 L53.38,313.07 L54.09,310.95 L54.82,309.82 L55.67,308.44 L55.93,311.95 L56.80,311.32 L57.74,309.82 L58.01,305.02 L58.92,304.30 L60.06,303.49 L61.00,301.42 L61.64,301.46 L62.35,300.21 L63.05,300.04 L63.54,298.67 L64.31,301.52 L65.04,301.39 L65.33,301.27 L66.20,301.77 L66.61,300.46 L67.33,304.08 L68.16,307.00 L68.66,315.77 L69.77,318.17 L70.56,321.08 L71.54,324.58 L72.30,326.72 L73.24,329.27 L74.07,330.46 L74.92,333.73 L75.48,335.70 L76.25,337.68 L77.14,342.00 L77.89,344.69 L78.58,347.27 L79.53,348.15 L80.32,352.26 L80.55,353.08 L81.54,355.62 L81.95,355.95 L82.52,358.54 L83.67,360.57 L84.10,359.36 L84.65,361.79 L85.55,362.07 L85.89,362.48 L86.66,363.28 L87.20,364.37 L88.15,363.93 L88.50,365.40 L89.15,365.77 L89.93,365.85 L90.69,365.79 L91.14,366.18 L92.00,366.80 L92.39,367.21 L93.20,367.27 L93.87,367.83 L94.60,367.84 L95.46,368.02 L96.06,368.02 L96.64,368.20 L97.42,368.27 L97.87,368.37 L98.74,368.49 L99.30,368.60 L99.30,368.60Z" fill="#a0a0a0" stroke="#1a1a1a" stroke-width="0.55"/>
<path d="M21.48,367.73 L22.32,367.34 L22.70,366.70 L23.31,366.23 L24.24,365.70 L24.77,365.27 L25.28,364.95 L26.18,364.64 L26.40,363.90 L27.09,364.02 L28.05,363.53 L28.73,362.61 L29.45,361.82 L29.77,361.06 L30.54,360.01 L31.24,358.59 L31.81,357.69 L32.44,356.29 L33.36,356.48 L34.16,353.83 L34.67,351.44 L35.18,348.84 L36.05,345.56 L36.65,343.64 L37.35,340.86 L38.20,338.08 L38.64,335.56 L39.37,332.48 L40.00,330.66 L40.59,329.09 L41.68,326.65 L42.21,325.49 L42.77,322.45 L44.05,321.79 L44.57,320.12 L45.06,320.67 L45.89,319.99 L46.45,321.37 L47.44,322.45 L48.02,325.25 L48.95,327.26 L49.46,329.49 L50.44,332.41 L51.13,335.60 L51.92,337.87 L52.48,340.72 L53.11,342.21 L53.73,345.10 L54.63,347.17 L54.97,348.49 L55.72,349.41 L56.15,352.35 L56.81,352.72 L57.48,354.67 L57.99,355.95 L58.81,357.44 L59.30,357.54 L60.22,359.45 L60.91,359.56 L61.66,360.17 L62.02,361.40 L63.13,362.60 L63.48,363.40 L64.41,363.28 L64.92,363.71 L65.38,363.98 L65.99,364.36 L66.55,364.73 L67.21,365.31 L68.10,365.14 L68.82,365.60 L69.31,366.12 L69.87,366.32 L70.56,366.60 L71.41,366.94 L72.03,367.31 L72.40,367.68 L72.90,367.70 L73.70,367.82 L74.60,367.96 L74.81,367.96 L75.49,368.06 L76.23,368.13 L76.97,368.12 L77.34,368.19 L78.41,368.26 L78.85,368.34 L79.42,368.42 L79.99,368.48 L80.85,368.54 L81.40,368.60 L81.40,368.60 L21.60,368.60Z" fill="#625dab" stroke="#1a165a" stroke-width="0.6"/>
<path d="M21.00,368.60 L100.00,368.60" stroke="#bbbbbb" stroke-width="0.6" fill="none"/>
<path d="M22.00,368.60 L22.00,370.30" stroke="#555" stroke-width="0.7" fill="none"/>
<text transform="translate(23.20,372.00) rotate(-45)" font-size="3.8" fill="#444" text-anchor="end">10<tspan font-size="2.5" dy="-1.2">0</tspan></text>
<path d="M41.50,368.60 L41.50,370.30" stroke="#555" stroke-width="0.7" fill="none"/>
<text transform="translate(42.70,372.00) rotate(-45)" font-size="3.8" fill="#444" text-anchor="end">10<tspan font-size="2.5" dy="-1.2">0</tspan></text>
<path d="M61.80,368.60 L61.80,370.30" stroke="#555" stroke-width="0.7" fill="none"/>
<text transform="translate(63.00,372.00) rotate(-45)" font-size="3.8" fill="#444" text-anchor="end">10<tspan font-size="2.5" dy="-1.2">0</tspan></text>
<path d="M81.50,368.60 L81.50,370.30" stroke="#555" stroke-width="0.7" fill="none"/>
<text transform="translate(82.70,372.00) rotate(-45)" font-size="3.8" fill="#444" text-anchor="end">10<tspan font-size="2.5" dy="-1.2">0</tspan></text>
<path d="M97.80,368.60 L97.80,370.30" stroke="#555" stroke-width="0.7" fill="none"/>
<text transform="translate(99.00,372.00) rotate(-45)" font-size="3.8" fill="#444" text-anchor="end">10<tspan font-size="2.5" dy="-1.2">0</tspan></text>
<path d="M47.50,315.90 L95.40,315.90" stroke="#333" stroke-width="1" fill="none"/>
<path d="M95.40,312.50 L95.40,319.30" stroke="#333" stroke-width="1" fill="none"/>
<text x="28.80" y="309.59" font-size="5.8" font-weight="bold" fill="#333" textLength="10.70" lengthAdjust="spacingAndGlyphs">17%</text>
<text x="70.70" y="307.29" font-size="5.8" font-weight="bold" fill="#333" textLength="10.70" lengthAdjust="spacingAndGlyphs">87%</text>
<text x="27.40" y="384.22" font-size="8.4" fill="#222" textLength="64.30" lengthAdjust="spacingAndGlyphs" stroke="#222" stroke-width="0.3">CD10 expression</text>
<text x="131.90" y="286.64" font-size="9" font-weight="bold" fill="#231f20" textLength="10.30" lengthAdjust="spacingAndGlyphs">(ii)</text>
<text x="185.50" y="297.44" font-size="7.9" font-weight="bold" fill="#262626" textLength="59.90" lengthAdjust="spacingAndGlyphs">Cell proliferation</text>
<path d="M173.80,298.70 L173.80,367.30" stroke="#231f20" stroke-width="1.2" fill="none"/>
<path d="M172.00,366.80 L265.00,366.80" stroke="#231f20" stroke-width="1.2" fill="none"/>
<path d="M170.30,314.60 L173.80,314.60" stroke="#231f20" stroke-width="1" fill="none"/>
<text x="169.50" y="317.59" font-size="8.3" fill="#333" text-anchor="end">30,000</text>
<path d="M170.30,340.60 L173.80,340.60" stroke="#231f20" stroke-width="1" fill="none"/>
<text x="169.50" y="343.59" font-size="8.3" fill="#333" text-anchor="end">15,000</text>
<path d="M170.30,366.30 L173.80,366.30" stroke="#231f20" stroke-width="1" fill="none"/>
<text x="169.50" y="369.29" font-size="8.3" fill="#333" text-anchor="end">0</text>
<path d="M178.90,366.80 L178.90,369.00" stroke="#231f20" stroke-width="1" fill="none"/>
<text x="178.90" y="377.01" font-size="7.8" fill="#333" text-anchor="middle">0</text>
<path d="M205.83,366.80 L205.83,369.00" stroke="#231f20" stroke-width="1" fill="none"/>
<text x="205.83" y="377.01" font-size="7.8" fill="#333" text-anchor="middle">1</text>
<path d="M232.76,366.80 L232.76,369.00" stroke="#231f20" stroke-width="1" fill="none"/>
<text x="232.76" y="377.01" font-size="7.8" fill="#333" text-anchor="middle">2</text>
<path d="M259.69,366.80 L259.69,369.00" stroke="#231f20" stroke-width="1" fill="none"/>
<text x="259.69" y="377.01" font-size="7.8" fill="#333" text-anchor="middle">3</text>
<text x="219.70" y="385.11" font-size="7.8" font-weight="bold" fill="#231f20" text-anchor="middle">Days</text>
<text transform="translate(139.92,365.70) rotate(-90)" font-size="8.1" font-weight="bold" fill="#231f20" textLength="67.00" lengthAdjust="spacingAndGlyphs">Tumor cell number</text>
<path d="M178.90,347.10 L205.83,337.00 L232.76,324.30 L259.69,306.40" stroke="#3d4f9f" stroke-width="1.0" fill="none" stroke-dasharray="3.5,2.5"/>
<path d="M178.90,347.10 L205.83,335.00 L232.76,327.70 L259.69,313.40" stroke="#111" stroke-width="1.2" fill="none"/>
<path d="M178.90,347.10 L205.83,341.00 L232.76,339.60 L259.69,330.60" stroke="#e2242c" stroke-width="1.2" fill="none"/>
<path d="M205.83,331.00 L205.83,339.00" stroke="#555" stroke-width="0.8" fill="none"/>
<path d="M204.33,331.00 L207.33,331.00" stroke="#555" stroke-width="0.8" fill="none"/>
<path d="M204.33,339.00 L207.33,339.00" stroke="#555" stroke-width="0.8" fill="none"/>
<path d="M259.69,308.00 L259.69,319.00" stroke="#555" stroke-width="0.8" fill="none"/>
<path d="M258.19,308.00 L261.19,308.00" stroke="#555" stroke-width="0.8" fill="none"/>
<path d="M258.19,319.00 L261.19,319.00" stroke="#555" stroke-width="0.8" fill="none"/>
<path d="M232.76,322.00 L232.76,331.00" stroke="#555" stroke-width="0.8" fill="none"/>
<path d="M231.26,322.00 L234.26,322.00" stroke="#555" stroke-width="0.8" fill="none"/>
<path d="M231.26,331.00 L234.26,331.00" stroke="#555" stroke-width="0.8" fill="none"/>
<path d="M259.69,303.00 L259.69,309.00" stroke="#3d4f9f" stroke-width="0.8" fill="none"/>
<path d="M258.19,303.00 L261.19,303.00" stroke="#3d4f9f" stroke-width="0.8" fill="none"/>
<path d="M258.19,309.00 L261.19,309.00" stroke="#3d4f9f" stroke-width="0.8" fill="none"/>
<circle cx="178.90" cy="347.10" r="1.6" fill="#3d4f9f"/>
<circle cx="205.83" cy="337.00" r="1.6" fill="#3d4f9f"/>
<circle cx="232.76" cy="324.30" r="1.6" fill="#3d4f9f"/>
<circle cx="259.69" cy="306.40" r="1.6" fill="#3d4f9f"/>
<circle cx="178.90" cy="347.10" r="1.6" fill="#111"/>
<circle cx="205.83" cy="335.00" r="1.6" fill="#111"/>
<circle cx="232.76" cy="327.70" r="1.6" fill="#111"/>
<circle cx="259.69" cy="313.40" r="1.6" fill="#111"/>
<circle cx="178.90" cy="347.10" r="1.7" fill="#e2242c"/>
<circle cx="205.83" cy="341.00" r="1.7" fill="#e2242c"/>
<circle cx="232.76" cy="339.60" r="1.7" fill="#e2242c"/>
<circle cx="259.69" cy="330.60" r="1.7" fill="#e2242c"/>
<path d="M266.80,321.60 L266.80,320.04 M266.80,321.60 L268.28,321.12 M266.80,321.60 L267.72,322.86 M266.80,321.60 L265.88,322.86 M266.80,321.60 L265.32,321.12 " stroke="#231f20" stroke-width="1.05" stroke-linecap="butt" fill="none"/>
<text x="295.90" y="286.64" font-size="9" font-weight="bold" fill="#231f20" textLength="12.70" lengthAdjust="spacingAndGlyphs">(iii)</text>
<text x="323.70" y="294.54" font-size="7.6" font-weight="bold" fill="#262626" textLength="115.05" lengthAdjust="spacingAndGlyphs">Cell survival, cisplatin 0.5 mg/mL</text>
<path d="M334.80,302.20 L334.80,367.60" stroke="#231f20" stroke-width="1.2" fill="none"/>
<path d="M332.00,367.10 L425.20,367.10" stroke="#231f20" stroke-width="1.2" fill="none"/>
<path d="M331.30,302.20 L334.80,302.20" stroke="#231f20" stroke-width="1" fill="none"/>
<text x="331.00" y="304.97" font-size="7.7" fill="#333" text-anchor="end">20,000</text>
<path d="M331.30,318.10 L334.80,318.10" stroke="#231f20" stroke-width="1" fill="none"/>
<text x="331.00" y="320.87" font-size="7.7" fill="#333" text-anchor="end">15,000</text>
<path d="M331.30,334.00 L334.80,334.00" stroke="#231f20" stroke-width="1" fill="none"/>
<text x="331.00" y="336.77" font-size="7.7" fill="#333" text-anchor="end">10,000</text>
<path d="M331.30,349.80 L334.80,349.80" stroke="#231f20" stroke-width="1" fill="none"/>
<text x="331.00" y="352.57" font-size="7.7" fill="#333" text-anchor="end">5,000</text>
<path d="M331.30,365.70 L334.80,365.70" stroke="#231f20" stroke-width="1" fill="none"/>
<text x="331.00" y="368.47" font-size="7.7" fill="#333" text-anchor="end">0</text>
<path d="M341.50,367.10 L341.50,369.30" stroke="#231f20" stroke-width="1" fill="none"/>
<text x="341.50" y="377.61" font-size="7.8" fill="#333" text-anchor="middle">0</text>
<path d="M368.23,367.10 L368.23,369.30" stroke="#231f20" stroke-width="1" fill="none"/>
<text x="368.23" y="377.61" font-size="7.8" fill="#333" text-anchor="middle">1</text>
<path d="M394.96,367.10 L394.96,369.30" stroke="#231f20" stroke-width="1" fill="none"/>
<text x="394.96" y="377.61" font-size="7.8" fill="#333" text-anchor="middle">2</text>
<path d="M421.69,367.10 L421.69,369.30" stroke="#231f20" stroke-width="1" fill="none"/>
<text x="421.69" y="377.61" font-size="7.8" fill="#333" text-anchor="middle">3</text>
<text x="381.20" y="385.03" font-size="7.3" font-weight="bold" fill="#231f20" text-anchor="middle">Days</text>
<text transform="translate(305.52,364.50) rotate(-90)" font-size="8.1" font-weight="bold" fill="#231f20" textLength="64.30" lengthAdjust="spacingAndGlyphs">Viable tumor cells</text>
<path d="M341.50,328.30 L368.23,307.80 L394.96,307.80 L421.69,310.40" stroke="#3d4f9f" stroke-width="1.0" fill="none" stroke-dasharray="3.5,2.5"/>
<path d="M341.50,328.30 L368.23,320.70 L394.96,323.10 L421.69,325.70" stroke="#111" stroke-width="1.2" fill="none"/>
<path d="M341.50,328.30 L368.23,317.70 L394.96,329.00 L421.69,337.00" stroke="#e2242c" stroke-width="1.2" fill="none"/>
<path d="M368.23,301.90 L368.23,314.00" stroke="#3d4f9f" stroke-width="0.8" fill="none"/>
<path d="M366.73,301.90 L369.73,301.90" stroke="#3d4f9f" stroke-width="0.8" fill="none"/>
<path d="M366.73,314.00 L369.73,314.00" stroke="#3d4f9f" stroke-width="0.8" fill="none"/>
<path d="M368.23,316.00 L368.23,325.00" stroke="#555" stroke-width="0.8" fill="none"/>
<path d="M366.73,316.00 L369.73,316.00" stroke="#555" stroke-width="0.8" fill="none"/>
<path d="M366.73,325.00 L369.73,325.00" stroke="#555" stroke-width="0.8" fill="none"/>
<path d="M394.96,319.50 L394.96,326.50" stroke="#555" stroke-width="0.8" fill="none"/>
<path d="M393.46,319.50 L396.46,319.50" stroke="#555" stroke-width="0.8" fill="none"/>
<path d="M393.46,326.50 L396.46,326.50" stroke="#555" stroke-width="0.8" fill="none"/>
<circle cx="341.50" cy="328.30" r="1.6" fill="#3d4f9f"/>
<circle cx="368.23" cy="307.80" r="1.6" fill="#3d4f9f"/>
<circle cx="394.96" cy="307.80" r="1.6" fill="#3d4f9f"/>
<circle cx="421.69" cy="310.40" r="1.6" fill="#3d4f9f"/>
<circle cx="341.50" cy="328.30" r="1.6" fill="#111"/>
<circle cx="368.23" cy="320.70" r="1.6" fill="#111"/>
<circle cx="394.96" cy="323.10" r="1.6" fill="#111"/>
<circle cx="421.69" cy="325.70" r="1.6" fill="#111"/>
<circle cx="341.50" cy="328.30" r="1.9" fill="#e2242c"/>
<circle cx="368.23" cy="317.70" r="1.9" fill="#e2242c"/>
<circle cx="394.96" cy="329.00" r="1.9" fill="#e2242c"/>
<circle cx="421.69" cy="337.00" r="1.9" fill="#e2242c"/>
<path d="M427.50,307.00 L427.50,344.00" stroke="#aaaaaa" stroke-width="1.3" fill="none"/>
<path d="M429.40,326.20 L429.40,324.64 M429.40,326.20 L430.88,325.72 M429.40,326.20 L430.32,327.46 M429.40,326.20 L428.48,327.46 M429.40,326.20 L427.92,325.72 " stroke="#231f20" stroke-width="1.05" stroke-linecap="butt" fill="none"/>
<path d="M432.40,305.70 L440.60,305.70" stroke="#3d4f9f" stroke-width="1.1" fill="none" stroke-dasharray="2,1"/>
<circle cx="436.50" cy="305.70" r="1.5" fill="#3d4f9f"/>
<path d="M432.40,321.70 L440.60,321.70" stroke="#111" stroke-width="1.1" fill="none"/>
<circle cx="436.50" cy="321.70" r="1.6" fill="#111"/>
<path d="M432.40,341.30 L440.60,341.30" stroke="#e2242c" stroke-width="1.1" fill="none"/>
<circle cx="436.50" cy="341.30" r="1.5" fill="#e2242c"/>
<text x="443.75" y="304.02" font-size="7.7" fill="#222" textLength="71.25" lengthAdjust="spacingAndGlyphs" stroke="#222" stroke-width="0.15">TOV-21G + CD10 KD</text>
<text x="443.75" y="312.77" font-size="7.7" stroke="#222" stroke-width="0.15" fill="#222" textLength="50.00" lengthAdjust="spacingAndGlyphs">C10<tspan font-size="4.77" dy="2.77">high</tspan><tspan dy="-2.77"> enMSC</tspan></text>
<text x="443.75" y="324.02" font-size="7.7" fill="#222" textLength="51.25" lengthAdjust="spacingAndGlyphs" stroke="#222" stroke-width="0.15">TOV-21G alone</text>
<text x="443.75" y="337.77" font-size="7.7" fill="#222" textLength="39.25" lengthAdjust="spacingAndGlyphs" stroke="#222" stroke-width="0.15">TOV-21G +</text>
<text x="443.75" y="348.27" font-size="7.7" stroke="#222" stroke-width="0.15" fill="#222" textLength="57.25" lengthAdjust="spacingAndGlyphs">CD10<tspan font-size="4.77" dy="2.77">high</tspan><tspan dy="-2.77"> enMSC</tspan></text>
<text x="1.00" y="403.45" font-size="13.2" font-weight="bold" fill="#231f20">F</text>
<text x="15.30" y="402.14" font-size="9" font-weight="bold" fill="#231f20" textLength="8.10" lengthAdjust="spacingAndGlyphs">(i)</text>
<rect x="64.75" y="398.75" width="4.5" height="4.5" fill="#e8343a"/>
<rect x="64.75" y="407.35" width="4.5" height="4.5" fill="#9a9a9a"/>
<text x="72.00" y="403.88" font-size="8" fill="#1a1a1a" textLength="34.20" lengthAdjust="spacingAndGlyphs" stroke="#1a1a1a" stroke-width="0.18">CD10 OE</text>
<text x="72.00" y="412.28" font-size="8" stroke="#1a1a1a" stroke-width="0.18" fill="#1a1a1a" textLength="29.60" lengthAdjust="spacingAndGlyphs">CD10<tspan font-size="4.96" dy="2.88">low</tspan></text>
<path d="M24.00,408.50 L24.00,481.00" stroke="#bbbbbb" stroke-width="1.2" fill="none"/>
<path d="M27.53,480.52 L28.39,480.08 L28.80,479.77 L29.71,479.27 L30.18,478.70 L30.55,478.35 L31.46,477.70 L32.19,477.38 L32.53,476.76 L33.53,477.03 L34.09,476.50 L34.29,475.74 L35.14,475.02 L35.99,474.93 L36.21,475.21 L36.81,475.02 L37.59,473.85 L38.15,473.19 L38.68,471.75 L39.64,471.61 L40.21,471.02 L40.91,471.85 L41.42,471.05 L41.95,470.44 L42.33,469.39 L43.30,468.30 L43.96,469.14 L44.31,467.55 L44.95,467.05 L45.83,466.51 L45.96,465.39 L46.95,466.29 L47.49,464.38 L48.16,464.00 L48.64,462.82 L49.45,461.95 L49.91,460.14 L50.64,460.75 L51.28,459.19 L51.90,457.31 L52.38,457.11 L53.34,454.61 L53.89,453.59 L54.60,452.54 L54.95,450.98 L56.03,444.98 L56.79,439.58 L57.30,436.03 L58.32,432.79 L58.68,431.01 L59.80,428.07 L60.60,424.90 L61.08,423.08 L61.93,421.67 L62.52,420.84 L63.70,420.97 L64.26,418.42 L64.64,417.85 L65.41,415.86 L65.83,416.36 L66.90,419.06 L67.59,420.20 L67.96,421.78 L68.77,422.86 L69.22,424.41 L69.93,425.50 L70.49,429.01 L70.76,430.83 L71.67,433.88 L72.24,435.23 L72.75,439.18 L73.60,440.07 L73.90,443.16 L74.56,447.04 L75.32,451.06 L76.28,452.75 L76.92,455.69 L77.60,458.02 L78.13,460.49 L78.94,464.08 L79.73,465.29 L80.49,468.81 L81.20,470.50 L81.49,471.71 L82.20,474.13 L82.94,475.79 L83.65,476.33 L84.35,476.18 L85.06,477.08 L85.99,477.68 L86.46,478.46 L87.35,478.82 L87.85,479.60 L88.57,479.88 L89.02,479.91 L89.78,480.00 L90.21,480.18 L91.32,480.22 L91.65,480.45 L92.40,480.50 L92.40,481.00 L27.70,481.00Z" fill="#e8262b" stroke="none" stroke-width="1"/>
<path d="M23.33,479.91 L23.56,478.92 L24.34,476.88 L25.28,475.66 L26.09,474.04 L26.83,472.74 L27.33,472.12 L28.05,470.27 L28.74,466.68 L29.51,465.92 L29.91,463.28 L30.87,461.77 L31.62,459.85 L32.33,457.13 L32.90,454.92 L33.38,453.31 L34.17,449.10 L35.26,444.97 L35.62,441.45 L36.65,435.57 L37.11,431.66 L37.87,427.85 L38.87,423.93 L39.59,421.12 L40.61,417.31 L41.14,416.12 L41.90,414.39 L42.65,417.53 L43.35,421.19 L43.69,425.59 L44.59,424.46 L45.38,425.46 L46.43,424.62 L46.92,425.36 L47.93,427.08 L48.52,429.00 L49.18,432.85 L49.88,436.04 L50.82,441.39 L51.57,441.93 L52.30,443.35 L52.86,446.63 L53.81,447.62 L54.67,451.20 L55.41,454.87 L56.41,458.25 L56.92,461.29 L57.77,463.61 L58.54,466.84 L59.15,469.39 L59.56,470.80 L60.57,472.79 L60.94,474.27 L61.67,474.40 L62.07,476.22 L62.83,475.98 L63.36,477.01 L64.28,477.84 L64.59,478.69 L65.34,478.99 L65.94,479.45 L66.88,479.70 L67.10,479.78 L68.16,479.93 L68.49,480.27 L69.30,480.50 L69.30,481.00 L23.10,481.00Z" fill="#999999" stroke="none" stroke-width="1"/>
<clipPath id="fclip"><path d="M23.33,479.91 L23.56,478.92 L24.34,476.88 L25.28,475.66 L26.09,474.04 L26.83,472.74 L27.33,472.12 L28.05,470.27 L28.74,466.68 L29.51,465.92 L29.91,463.28 L30.87,461.77 L31.62,459.85 L32.33,457.13 L32.90,454.92 L33.38,453.31 L34.17,449.10 L35.26,444.97 L35.62,441.45 L36.65,435.57 L37.11,431.66 L37.87,427.85 L38.87,423.93 L39.59,421.12 L40.61,417.31 L41.14,416.12 L41.90,414.39 L42.65,417.53 L43.35,421.19 L43.69,425.59 L44.59,424.46 L45.38,425.46 L46.43,424.62 L46.92,425.36 L47.93,427.08 L48.52,429.00 L49.18,432.85 L49.88,436.04 L50.82,441.39 L51.57,441.93 L52.30,443.35 L52.86,446.63 L53.81,447.62 L54.67,451.20 L55.41,454.87 L56.41,458.25 L56.92,461.29 L57.77,463.61 L58.54,466.84 L59.15,469.39 L59.56,470.80 L60.57,472.79 L60.94,474.27 L61.67,474.40 L62.07,476.22 L62.83,475.98 L63.36,477.01 L64.28,477.84 L64.59,478.69 L65.34,478.99 L65.94,479.45 L66.88,479.70 L67.10,479.78 L68.16,479.93 L68.49,480.27 L69.30,480.50 L69.30,481.00 L23.10,481.00Z"/></clipPath>
<g clip-path="url(#fclip)">
<path d="M27.53,480.52 L28.39,480.08 L28.80,479.77 L29.71,479.27 L30.18,478.70 L30.55,478.35 L31.46,477.70 L32.19,477.38 L32.53,476.76 L33.53,477.03 L34.09,476.50 L34.29,475.74 L35.14,475.02 L35.99,474.93 L36.21,475.21 L36.81,475.02 L37.59,473.85 L38.15,473.19 L38.68,471.75 L39.64,471.61 L40.21,471.02 L40.91,471.85 L41.42,471.05 L41.95,470.44 L42.33,469.39 L43.30,468.30 L43.96,469.14 L44.31,467.55 L44.95,467.05 L45.83,466.51 L45.96,465.39 L46.95,466.29 L47.49,464.38 L48.16,464.00 L48.64,462.82 L49.45,461.95 L49.91,460.14 L50.64,460.75 L51.28,459.19 L51.90,457.31 L52.38,457.11 L53.34,454.61 L53.89,453.59 L54.60,452.54 L54.95,450.98 L56.03,444.98 L56.79,439.58 L57.30,436.03 L58.32,432.79 L58.68,431.01 L59.80,428.07 L60.60,424.90 L61.08,423.08 L61.93,421.67 L62.52,420.84 L63.70,420.97 L64.26,418.42 L64.64,417.85 L65.41,415.86 L65.83,416.36 L66.90,419.06 L67.59,420.20 L67.96,421.78 L68.77,422.86 L69.22,424.41 L69.93,425.50 L70.49,429.01 L70.76,430.83 L71.67,433.88 L72.24,435.23 L72.75,439.18 L73.60,440.07 L73.90,443.16 L74.56,447.04 L75.32,451.06 L76.28,452.75 L76.92,455.69 L77.60,458.02 L78.13,460.49 L78.94,464.08 L79.73,465.29 L80.49,468.81 L81.20,470.50 L81.49,471.71 L82.20,474.13 L82.94,475.79 L83.65,476.33 L84.35,476.18 L85.06,477.08 L85.99,477.68 L86.46,478.46 L87.35,478.82 L87.85,479.60 L88.57,479.88 L89.02,479.91 L89.78,480.00 L90.21,480.18 L91.32,480.22 L91.65,480.45 L92.40,480.50 L92.40,481.00 L27.70,481.00Z" fill="#9a7272" stroke="none" stroke-width="1"/>
</g>
<path d="M25.40,481.00 L25.40,482.70" stroke="#555" stroke-width="0.7" fill="none"/>
<text transform="translate(26.60,484.40) rotate(-45)" font-size="3.8" fill="#444" text-anchor="end">10<tspan font-size="2.5" dy="-1.2">0</tspan></text>
<path d="M44.10,481.00 L44.10,482.70" stroke="#555" stroke-width="0.7" fill="none"/>
<text transform="translate(45.30,484.40) rotate(-45)" font-size="3.8" fill="#444" text-anchor="end">10<tspan font-size="2.5" dy="-1.2">0</tspan></text>
<path d="M63.75,481.00 L63.75,482.70" stroke="#555" stroke-width="0.7" fill="none"/>
<text transform="translate(64.95,484.40) rotate(-45)" font-size="3.8" fill="#444" text-anchor="end">10<tspan font-size="2.5" dy="-1.2">0</tspan></text>
<path d="M82.50,481.00 L82.50,482.70" stroke="#555" stroke-width="0.7" fill="none"/>
<text transform="translate(83.70,484.40) rotate(-45)" font-size="3.8" fill="#444" text-anchor="end">10<tspan font-size="2.5" dy="-1.2">0</tspan></text>
<path d="M98.60,481.00 L98.60,482.70" stroke="#555" stroke-width="0.7" fill="none"/>
<text transform="translate(99.80,484.40) rotate(-45)" font-size="3.8" fill="#444" text-anchor="end">10<tspan font-size="2.5" dy="-1.2">0</tspan></text>
<path d="M49.50,436.25 L100.40,436.25" stroke="#222" stroke-width="1" fill="none"/>
<text x="27.10" y="429.39" font-size="5.8" font-weight="bold" fill="#333" textLength="10.80" lengthAdjust="spacingAndGlyphs">27%</text>
<text x="70.90" y="429.39" font-size="5.8" font-weight="bold" fill="#333" textLength="10.70" lengthAdjust="spacingAndGlyphs">83%</text>
<text x="28.90" y="498.02" font-size="8.4" fill="#222" textLength="63.50" lengthAdjust="spacingAndGlyphs" stroke="#222" stroke-width="0.3">CD10 expression</text>
<text x="134.00" y="402.14" font-size="9" font-weight="bold" fill="#231f20" textLength="9.80" lengthAdjust="spacingAndGlyphs">(ii)</text>
<text x="186.90" y="409.44" font-size="7.9" font-weight="bold" fill="#262626" textLength="60.30" lengthAdjust="spacingAndGlyphs">Cell proliferation</text>
<path d="M177.50,413.30 L177.50,481.60" stroke="#231f20" stroke-width="1.2" fill="none"/>
<path d="M174.00,481.20 L262.30,481.20" stroke="#231f20" stroke-width="1.2" fill="none"/>
<path d="M174.00,428.70 L177.50,428.70" stroke="#231f20" stroke-width="1" fill="none"/>
<text x="173.20" y="431.69" font-size="8.3" fill="#333" text-anchor="end">40,000</text>
<path d="M174.00,454.50 L177.50,454.50" stroke="#231f20" stroke-width="1" fill="none"/>
<text x="173.20" y="457.49" font-size="8.3" fill="#333" text-anchor="end">20,000</text>
<path d="M174.00,480.30 L177.50,480.30" stroke="#231f20" stroke-width="1" fill="none"/>
<text x="173.20" y="483.29" font-size="8.3" fill="#333" text-anchor="end">0</text>
<path d="M182.30,481.20 L182.30,483.40" stroke="#231f20" stroke-width="1" fill="none"/>
<path d="M207.30,481.20 L207.30,483.40" stroke="#231f20" stroke-width="1" fill="none"/>
<path d="M233.10,481.20 L233.10,483.40" stroke="#231f20" stroke-width="1" fill="none"/>
<path d="M259.30,481.20 L259.30,483.40" stroke="#231f20" stroke-width="1" fill="none"/>
<text x="177.50" y="491.21" font-size="7.8" fill="#333" text-anchor="middle">0</text>
<text x="207.30" y="491.21" font-size="7.8" fill="#333" text-anchor="middle">1</text>
<text x="233.10" y="491.21" font-size="7.8" fill="#333" text-anchor="middle">2</text>
<text x="259.30" y="491.21" font-size="7.8" fill="#333" text-anchor="middle">3</text>
<text x="219.50" y="499.91" font-size="7.8" font-weight="bold" fill="#231f20" text-anchor="middle">Days</text>
<text transform="translate(144.12,484.80) rotate(-90)" font-size="8.1" font-weight="bold" fill="#231f20" textLength="70.30" lengthAdjust="spacingAndGlyphs">Tumor cell number</text>
<path d="M182.30,467.50 L207.30,467.50 L233.10,458.60 L259.30,452.10" stroke="#e2242c" stroke-width="1.2" fill="none" stroke-dasharray="3.5,2.5"/>
<path d="M182.30,467.50 L207.30,450.50 L233.10,436.70 L259.30,416.10" stroke="#3d4f9f" stroke-width="1.1" fill="none"/>
<path d="M182.30,467.50 L207.30,456.30 L233.10,448.80 L259.30,441.60" stroke="#111" stroke-width="1.1" fill="none"/>
<path d="M233.10,443.90 L233.10,453.70" stroke="#777" stroke-width="0.7" fill="none"/>
<path d="M231.35,443.90 L234.85,443.90" stroke="#777" stroke-width="0.7" fill="none"/>
<path d="M231.35,453.70 L234.85,453.70" stroke="#777" stroke-width="0.7" fill="none"/>
<path d="M259.30,437.40 L259.30,445.60" stroke="#777" stroke-width="0.7" fill="none"/>
<path d="M257.55,437.40 L261.05,437.40" stroke="#777" stroke-width="0.7" fill="none"/>
<path d="M257.55,445.60 L261.05,445.60" stroke="#777" stroke-width="0.7" fill="none"/>
<path d="M233.10,454.40 L233.10,463.50" stroke="#e66" stroke-width="0.7" fill="none"/>
<path d="M231.35,454.40 L234.85,454.40" stroke="#e66" stroke-width="0.7" fill="none"/>
<path d="M231.35,463.50 L234.85,463.50" stroke="#e66" stroke-width="0.7" fill="none"/>
<path d="M259.30,413.50 L259.30,419.40" stroke="#6a78c0" stroke-width="0.7" fill="none"/>
<path d="M257.55,413.50 L261.05,413.50" stroke="#6a78c0" stroke-width="0.7" fill="none"/>
<path d="M257.55,419.40 L261.05,419.40" stroke="#6a78c0" stroke-width="0.7" fill="none"/>
<path d="M233.10,434.00 L233.10,439.00" stroke="#6a78c0" stroke-width="0.7" fill="none"/>
<path d="M231.35,434.00 L234.85,434.00" stroke="#6a78c0" stroke-width="0.7" fill="none"/>
<path d="M231.35,439.00 L234.85,439.00" stroke="#6a78c0" stroke-width="0.7" fill="none"/>
<circle cx="182.30" cy="467.50" r="2.1" fill="#e2242c"/>
<circle cx="207.30" cy="467.50" r="2.1" fill="#e2242c"/>
<circle cx="233.10" cy="458.60" r="2.1" fill="#e2242c"/>
<circle cx="259.30" cy="452.10" r="2.1" fill="#e2242c"/>
<circle cx="182.30" cy="467.50" r="2.1" fill="#3d4f9f"/>
<circle cx="207.30" cy="450.50" r="2.1" fill="#3d4f9f"/>
<circle cx="233.10" cy="436.70" r="2.1" fill="#3d4f9f"/>
<circle cx="259.30" cy="416.10" r="2.1" fill="#3d4f9f"/>
<circle cx="182.30" cy="467.50" r="2.0" fill="#111"/>
<circle cx="207.30" cy="456.30" r="2.0" fill="#111"/>
<circle cx="233.10" cy="448.80" r="2.0" fill="#111"/>
<circle cx="259.30" cy="441.60" r="2.0" fill="#111"/>
<circle cx="182.30" cy="467.50" r="2.1" fill="#1c2450"/>
<path d="M263.80,412.90 L263.80,450.50" stroke="#aaaaaa" stroke-width="1.3" fill="none"/>
<path d="M268.70,431.70 L268.70,430.14 M268.70,431.70 L270.18,431.22 M268.70,431.70 L269.62,432.96 M268.70,431.70 L267.78,432.96 M268.70,431.70 L267.22,431.22 " stroke="#231f20" stroke-width="1.05" stroke-linecap="butt" fill="none"/>
<text x="295.00" y="402.14" font-size="9" font-weight="bold" fill="#231f20" textLength="13.60" lengthAdjust="spacingAndGlyphs">(iii)</text>
<text x="321.30" y="410.54" font-size="7.6" font-weight="bold" fill="#262626" textLength="114.95" lengthAdjust="spacingAndGlyphs">Cell survival, cisplatin 0.5 mg/mL</text>
<path d="M333.40,416.40 L333.40,482.70" stroke="#231f20" stroke-width="1.2" fill="none"/>
<path d="M332.00,482.30 L422.50,482.30" stroke="#231f20" stroke-width="1.2" fill="none"/>
<path d="M329.90,424.40 L333.40,424.40" stroke="#231f20" stroke-width="1" fill="none"/>
<text x="329.60" y="427.17" font-size="7.7" fill="#333" text-anchor="end">15,000</text>
<path d="M329.90,443.40 L333.40,443.40" stroke="#231f20" stroke-width="1" fill="none"/>
<text x="329.60" y="446.17" font-size="7.7" fill="#333" text-anchor="end">10,000</text>
<path d="M329.90,462.90 L333.40,462.90" stroke="#231f20" stroke-width="1" fill="none"/>
<text x="329.60" y="465.67" font-size="7.7" fill="#333" text-anchor="end">5,000</text>
<path d="M329.90,482.00 L333.40,482.00" stroke="#231f20" stroke-width="1" fill="none"/>
<text x="329.60" y="484.77" font-size="7.7" fill="#333" text-anchor="end">0</text>
<path d="M340.60,482.30 L340.60,484.50" stroke="#231f20" stroke-width="1" fill="none"/>
<text x="340.60" y="492.61" font-size="7.8" fill="#333" text-anchor="middle">0</text>
<path d="M366.50,482.30 L366.50,484.50" stroke="#231f20" stroke-width="1" fill="none"/>
<text x="366.50" y="492.61" font-size="7.8" fill="#333" text-anchor="middle">1</text>
<path d="M392.50,482.30 L392.50,484.50" stroke="#231f20" stroke-width="1" fill="none"/>
<text x="392.50" y="492.61" font-size="7.8" fill="#333" text-anchor="middle">2</text>
<path d="M418.50,482.30 L418.50,484.50" stroke="#231f20" stroke-width="1" fill="none"/>
<text x="418.50" y="492.61" font-size="7.8" fill="#333" text-anchor="middle">3</text>
<text x="379.50" y="500.70" font-size="7.5" font-weight="bold" fill="#231f20" text-anchor="middle">Days</text>
<text transform="translate(303.72,481.20) rotate(-90)" font-size="8.1" font-weight="bold" fill="#231f20" textLength="63.50" lengthAdjust="spacingAndGlyphs">Viable tumor cells</text>
<path d="M340.60,450.60 L366.50,430.80 L392.50,427.20 L418.50,422.80" stroke="#3d4f9f" stroke-width="1.1" fill="none"/>
<path d="M340.60,450.60 L366.50,434.70 L392.50,432.30 L418.50,446.60" stroke="#111" stroke-width="1.2" fill="none"/>
<path d="M340.60,450.60 L366.50,442.00 L392.50,450.60 L418.50,453.60" stroke="#e2242c" stroke-width="1.2" fill="none" stroke-dasharray="3,2"/>
<path d="M418.50,418.00 L418.50,428.00" stroke="#3d4f9f" stroke-width="0.8" fill="none"/>
<path d="M417.00,418.00 L420.00,418.00" stroke="#3d4f9f" stroke-width="0.8" fill="none"/>
<path d="M417.00,428.00 L420.00,428.00" stroke="#3d4f9f" stroke-width="0.8" fill="none"/>
<path d="M366.50,426.50 L366.50,435.00" stroke="#3d4f9f" stroke-width="0.8" fill="none"/>
<path d="M365.00,426.50 L368.00,426.50" stroke="#3d4f9f" stroke-width="0.8" fill="none"/>
<path d="M365.00,435.00 L368.00,435.00" stroke="#3d4f9f" stroke-width="0.8" fill="none"/>
<path d="M392.50,424.00 L392.50,430.00" stroke="#3d4f9f" stroke-width="0.8" fill="none"/>
<path d="M391.00,424.00 L394.00,424.00" stroke="#3d4f9f" stroke-width="0.8" fill="none"/>
<path d="M391.00,430.00 L394.00,430.00" stroke="#3d4f9f" stroke-width="0.8" fill="none"/>
<path d="M392.50,427.00 L392.50,441.00" stroke="#777" stroke-width="0.8" fill="none"/>
<path d="M391.00,427.00 L394.00,427.00" stroke="#777" stroke-width="0.8" fill="none"/>
<path d="M391.00,441.00 L394.00,441.00" stroke="#777" stroke-width="0.8" fill="none"/>
<path d="M418.50,439.00 L418.50,455.60" stroke="#777" stroke-width="0.8" fill="none"/>
<path d="M417.00,439.00 L420.00,439.00" stroke="#777" stroke-width="0.8" fill="none"/>
<path d="M417.00,455.60 L420.00,455.60" stroke="#777" stroke-width="0.8" fill="none"/>
<path d="M366.50,431.00 L366.50,446.00" stroke="#777" stroke-width="0.8" fill="none"/>
<path d="M365.00,431.00 L368.00,431.00" stroke="#777" stroke-width="0.8" fill="none"/>
<path d="M365.00,446.00 L368.00,446.00" stroke="#777" stroke-width="0.8" fill="none"/>
<path d="M392.50,443.00 L392.50,459.00" stroke="#e2242c" stroke-width="0.8" fill="none"/>
<path d="M391.00,443.00 L394.00,443.00" stroke="#e2242c" stroke-width="0.8" fill="none"/>
<path d="M391.00,459.00 L394.00,459.00" stroke="#e2242c" stroke-width="0.8" fill="none"/>
<path d="M418.50,447.00 L418.50,460.00" stroke="#e2242c" stroke-width="0.8" fill="none"/>
<path d="M417.00,447.00 L420.00,447.00" stroke="#e2242c" stroke-width="0.8" fill="none"/>
<path d="M417.00,460.00 L420.00,460.00" stroke="#e2242c" stroke-width="0.8" fill="none"/>
<circle cx="340.60" cy="450.60" r="1.9" fill="#e2242c"/>
<circle cx="366.50" cy="442.00" r="1.9" fill="#e2242c"/>
<circle cx="392.50" cy="450.60" r="1.9" fill="#e2242c"/>
<circle cx="418.50" cy="453.60" r="1.9" fill="#e2242c"/>
<circle cx="340.60" cy="450.60" r="1.8" fill="#3d4f9f"/>
<circle cx="366.50" cy="430.80" r="1.8" fill="#3d4f9f"/>
<circle cx="392.50" cy="427.20" r="1.8" fill="#3d4f9f"/>
<circle cx="418.50" cy="422.80" r="1.8" fill="#3d4f9f"/>
<circle cx="340.60" cy="450.60" r="1.8" fill="#111"/>
<circle cx="366.50" cy="434.70" r="1.8" fill="#111"/>
<circle cx="392.50" cy="432.30" r="1.8" fill="#111"/>
<circle cx="418.50" cy="446.60" r="1.8" fill="#111"/>
<path d="M423.90,423.40 L423.90,460.60" stroke="#aaaaaa" stroke-width="1.4" fill="none"/>
<path d="M428.90,440.20 L428.90,438.64 M428.90,440.20 L430.38,439.72 M428.90,440.20 L429.82,441.46 M428.90,440.20 L427.98,441.46 M428.90,440.20 L427.42,439.72 " stroke="#231f20" stroke-width="1.05" stroke-linecap="butt" fill="none"/>
<path d="M436.80,420.50 L444.70,420.50" stroke="#3d4f9f" stroke-width="1.1" fill="none"/>
<circle cx="440.80" cy="420.50" r="1.5" fill="#3d4f9f"/>
<path d="M436.80,437.30 L444.70,437.30" stroke="#111" stroke-width="1.1" fill="none"/>
<circle cx="440.80" cy="437.30" r="1.6" fill="#111"/>
<path d="M436.80,452.40 L442.50,452.40" stroke="#e2242c" stroke-width="1.1" fill="none" stroke-dasharray="2,1"/>
<circle cx="440.80" cy="452.40" r="1.5" fill="#e2242c"/>
<text x="446.25" y="418.52" font-size="7.7" fill="#222" textLength="36.75" lengthAdjust="spacingAndGlyphs" stroke="#222" stroke-width="0.15">TOV-21G +</text>
<text x="446.25" y="429.02" font-size="7.7" stroke="#222" stroke-width="0.15" fill="#222" textLength="57.50" lengthAdjust="spacingAndGlyphs">CD10<tspan font-size="4.77" dy="2.77">low</tspan><tspan dy="-2.77"> enMSC</tspan></text>
<text x="450.00" y="439.77" font-size="7.7" fill="#222" textLength="50.00" lengthAdjust="spacingAndGlyphs" stroke="#222" stroke-width="0.15">TOV-21G alone</text>
<text x="446.25" y="455.27" font-size="7.7" fill="#222" textLength="71.75" lengthAdjust="spacingAndGlyphs" stroke="#222" stroke-width="0.15">TOV-21G + CD10 OE</text>
<text x="446.25" y="465.27" font-size="7.7" stroke="#222" stroke-width="0.15" fill="#222" textLength="53.75" lengthAdjust="spacingAndGlyphs">CD10<tspan font-size="4.77" dy="2.77">low</tspan><tspan dy="-2.77"> enMSC</tspan></text>
</svg></body></html>
